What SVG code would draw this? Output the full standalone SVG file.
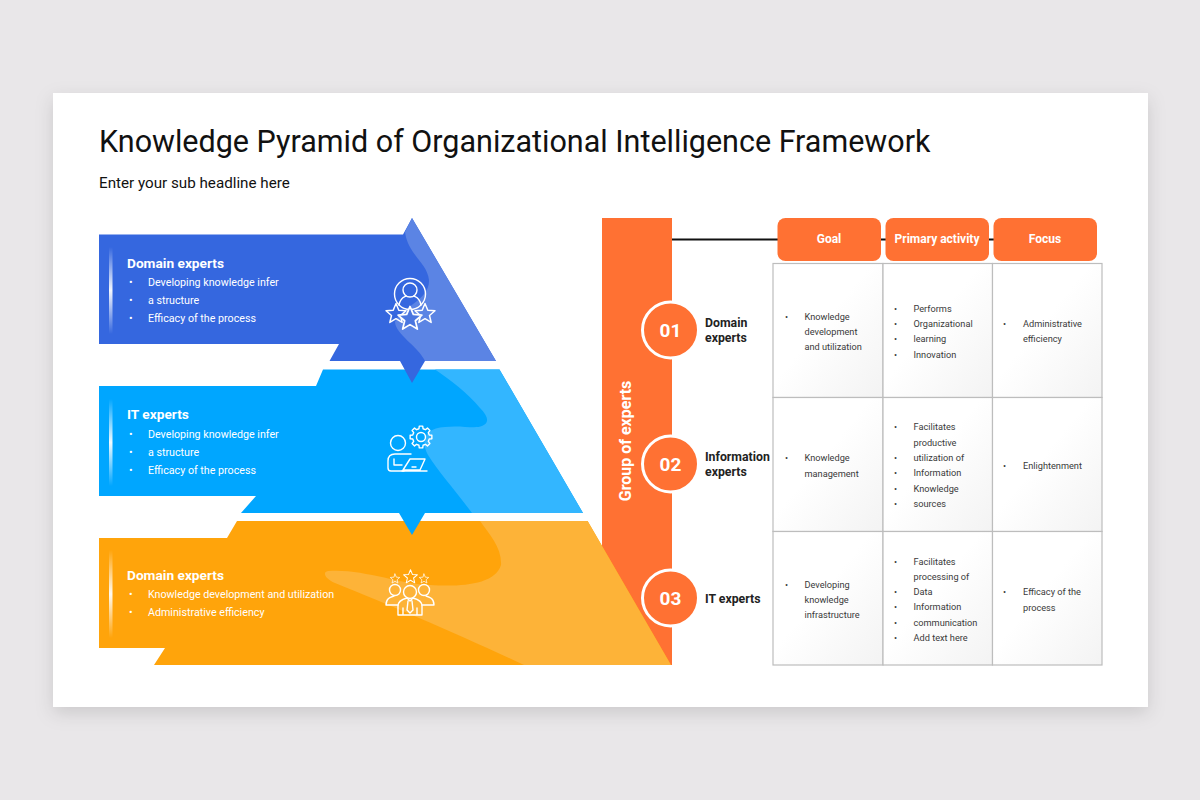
<svg xmlns="http://www.w3.org/2000/svg" width="1200" height="800" viewBox="0 0 1200 800">
<style>
text{font-family:Roboto,"Liberation Sans",sans-serif}
.h{font-size:13.7px;font-weight:700;fill:#fff}
.b{font-size:10.7px;fill:#fff}
.t{font-size:9.2px;fill:#3a3a3a}
.lab{font-size:12.3px;font-weight:700;fill:#222}
.num{font-size:19px;font-weight:700;fill:#fff;text-anchor:middle}
.hd{font-size:12px;font-weight:700;fill:#fff;text-anchor:middle}
.ic{fill:none;stroke:#fff;stroke-width:1.4;stroke-linejoin:round;stroke-linecap:round}
.cell{fill:url(#cg);stroke:#bdbdbd;stroke-width:1.2}
.bar{fill:url(#bg)}
.btn{fill:#ff7133}
</style>
<defs>
<filter id="sh" x="-5%" y="-5%" width="110%" height="115%"><feDropShadow dx="0" dy="6" stdDeviation="9" flood-color="#000" flood-opacity="0.13"/></filter>
<linearGradient id="cg" x1="0" y1="0" x2="1" y2="1"><stop offset="0.45" stop-color="#fff"/><stop offset="1" stop-color="#f3f3f3"/></linearGradient>
<linearGradient id="bg" x1="0" y1="0" x2="0" y2="1"><stop offset="0" stop-color="#fff" stop-opacity="0"/><stop offset="0.5" stop-color="#fff" stop-opacity="0.95"/><stop offset="1" stop-color="#fff" stop-opacity="0"/></linearGradient>
<path id="star" d="M0,-10L2.65,-3.64 9.51,-3.09 4.28,1.39 5.88,8.09 0,4.5 -5.88,8.09 -4.28,1.39 -9.51,-3.09 -2.65,-3.64Z"/>
</defs>
<rect width="1200" height="800" fill="#e9e7e9"/>
<rect x="53" y="93" width="1095" height="614" fill="#fff" filter="url(#sh)"/>
<text x="99" y="152" font-size="30.500" fill="#111">Knowledge Pyramid of Organizational Intelligence Framework</text>
<text x="99" y="188" font-size="15.200" fill="#111">Enter your sub headline here</text>

<g id="group-bar">
<rect x="602" y="218" width="70" height="447" fill="#ff7133"/>
<text transform="translate(631,441) rotate(-90)" font-size="16" font-weight="700" fill="#fff" text-anchor="middle">Group of experts</text>
</g>

<g id="tier-bottom">
<path d="M237,521H587.600L671,665H154L165,648H99V538H227Z" fill="#ffa40b"/>
<path d="M480,521H587.600L671,665H524C460,635 390,605 335,583C325,579 322,572 328,571C360,568 400,584 430,585C460,587 495,585 501,565C502,548 490,535 480,521Z" fill="#fdb338"/>
<rect class="bar" x="109" y="550" width="3.500" height="88"/>
<text class="h" x="127" y="580">Domain experts</text>
<text class="b" x="129" y="598">•</text><text class="b" x="148" y="598">Knowledge development and utilization</text>
<text class="b" x="129" y="616">•</text><text class="b" x="148" y="616">Administrative efficiency</text>
<g class="ic">
<use href="#star" transform="translate(395,579) scale(.5)"/>
<use href="#star" transform="translate(410.500,577) scale(.72)"/>
<use href="#star" transform="translate(424,579) scale(.5)"/>
<circle cx="395" cy="590" r="5.500"/><circle cx="424" cy="590" r="5.500"/><circle cx="410" cy="592" r="6.500"/>
<path d="M386,605C386,598 391,597 394,596M434,605C434,598 429,597 426,596M386,605H398M434,605H422"/>
<path d="M398,615V606C398,601 403,599 407,598L410,601L413,598C417,599 422,601 422,606V615ZM408,601L407,610L410,613L413,610L412,601M403,615V608M417,615V608"/>
</g>
</g>

<g id="tier-middle">
<path d="M323,369.500H499.500L583,513H425L412,535L399,513H241L256,496H99V386H316Z" fill="#00a6ff"/>
<path d="M435,369.500H499.500L583,513H472C455,490 437,470 428,455C420,440 425,428 445,427C460,425 475,429 482,426C490,423 488,416 480,408C468,393 450,380 435,369.500Z" fill="#33b6ff"/>
<rect class="bar" x="109" y="399" width="3.500" height="87"/>
<text class="h" x="127" y="419">IT experts</text>
<text class="b" x="129" y="438">•</text><text class="b" x="148" y="438">Developing knowledge infer</text>
<text class="b" x="129" y="456">•</text><text class="b" x="148" y="456">a structure</text>
<text class="b" x="129" y="474">•</text><text class="b" x="148" y="474">Efficacy of the process</text>
<g class="ic">
<circle cx="398" cy="443" r="7.500"/>
<path d="M411,454H395C390,454 388,457 388,461V468C388,470 389,471 391,471H404"/>
<path d="M394,459V465H402"/>
<path d="M410,459H425L420,470H403ZM402,471H427M412,467H416"/>
<g transform="translate(421,437)"><path d="M8.25,-2.06L10.86,-1.72 10.86,1.72 8.25,2.06 7.29,4.38 8.9,6.47 6.47,8.9 4.38,7.29 2.06,8.25 1.72,10.86 -1.72,10.86 -2.06,8.25 -4.38,7.29 -6.47,8.9 -8.9,6.47 -7.29,4.38 -8.25,2.06 -10.86,1.72 -10.86,-1.72 -8.25,-2.06 -7.29,-4.38 -8.9,-6.47 -6.47,-8.9 -4.38,-7.29 -2.06,-8.25 -1.72,-10.86 1.72,-10.86 2.06,-8.25 4.38,-7.29 6.47,-8.9 8.9,-6.47 7.29,-4.38Z"/><circle r="4.500"/></g>
</g>
</g>

<g id="tier-top">
<path d="M99,234.500H403L412,218L496,361H425L412,383L400,361H329.500L339,344H99Z" fill="#3567df"/>
<path d="M412,218L496,361H425C417,345 396,335 395,322C400,308 430,300 429,280C427,262 408,255 405,232Z" fill="#5b84e4"/>
<rect class="bar" x="109" y="247" width="3.500" height="87"/>
<text class="h" x="127" y="268">Domain experts</text>
<text class="b" x="129" y="286">•</text><text class="b" x="148" y="286">Developing knowledge infer</text>
<text class="b" x="129" y="304">•</text><text class="b" x="148" y="304">a structure</text>
<text class="b" x="129" y="322">•</text><text class="b" x="148" y="322">Efficacy of the process</text>
<g class="ic">
<circle cx="410" cy="294" r="15.500"/><circle cx="410" cy="290" r="7"/>
<path d="M399,305C400,298 404,297 406,296M421,305C420,298 416,297 414,296"/>
<use href="#star" transform="translate(396,314) scale(1.05)"/>
<use href="#star" transform="translate(425,314) scale(1.05)"/>
<use href="#star" transform="translate(410,319) scale(1.25)" fill="#4a76e0"/>
</g>
</g>

<g id="connectors">
<path d="M672,239.500H1000" stroke="#111" stroke-width="1.800" fill="none"/>
</g>

<g id="head-goal"><rect class="btn" x="777.500" y="218" width="103.500" height="43" rx="8"/><text class="hd" x="829" y="243">Goal</text></g>
<g id="head-activity"><rect class="btn" x="885.500" y="218" width="103.500" height="43" rx="8"/><text class="hd" x="937" y="243">Primary activity</text></g>
<g id="head-focus"><rect class="btn" x="993.500" y="218" width="103.500" height="43" rx="8"/><text class="hd" x="1045" y="243">Focus</text></g>

<g id="row-1">
<circle cx="670.500" cy="330" r="28" fill="#ff7133" stroke="#fff" stroke-width="3"/>
<text class="num" x="670.500" y="337">01</text>
<text class="lab" x="705" y="327">Domain</text><text class="lab" x="705" y="342">experts</text>
<rect class="cell" x="773" y="263.500" width="110" height="134"/>
<rect class="cell" x="883" y="263.500" width="109.500" height="134"/>
<rect class="cell" x="992.500" y="263.500" width="109.500" height="134"/>
<text class="t" x="785" y="320">•</text><text class="t" x="804.500" y="320">Knowledge</text><text class="t" x="804.500" y="335">development</text><text class="t" x="804.500" y="350">and utilization</text>
<text class="t" x="894" y="312">•</text><text class="t" x="913.500" y="312">Performs</text>
<text class="t" x="894" y="327">•</text><text class="t" x="913.500" y="327">Organizational</text>
<text class="t" x="894" y="342">•</text><text class="t" x="913.500" y="342">learning</text>
<text class="t" x="894" y="358">•</text><text class="t" x="913.500" y="358">Innovation</text>
<text class="t" x="1003" y="327">•</text><text class="t" x="1023" y="327">Administrative</text><text class="t" x="1023" y="342">efficiency</text>
</g>

<g id="row-2">
<circle cx="670.500" cy="464" r="28" fill="#ff7133" stroke="#fff" stroke-width="3"/>
<text class="num" x="670.500" y="471">02</text>
<text class="lab" x="705" y="461">Information</text><text class="lab" x="705" y="476">experts</text>
<rect class="cell" x="773" y="397.500" width="110" height="134"/>
<rect class="cell" x="883" y="397.500" width="109.500" height="134"/>
<rect class="cell" x="992.500" y="397.500" width="109.500" height="134"/>
<text class="t" x="785" y="461">•</text><text class="t" x="804.500" y="461">Knowledge</text><text class="t" x="804.500" y="477">management</text>
<text class="t" x="894" y="430">•</text><text class="t" x="913.500" y="430">Facilitates</text><text class="t" x="913.500" y="446">productive</text>
<text class="t" x="894" y="461">•</text><text class="t" x="913.500" y="461">utilization of</text>
<text class="t" x="894" y="476">•</text><text class="t" x="913.500" y="476">Information</text>
<text class="t" x="894" y="492">•</text><text class="t" x="913.500" y="492">Knowledge</text>
<text class="t" x="894" y="507">•</text><text class="t" x="913.500" y="507">sources</text>
<text class="t" x="1003" y="469">•</text><text class="t" x="1023" y="469">Enlightenment</text>
</g>

<g id="row-3">
<circle cx="670.500" cy="598" r="28" fill="#ff7133" stroke="#fff" stroke-width="3"/>
<text class="num" x="670.500" y="605">03</text>
<text class="lab" x="705" y="603">IT experts</text>
<rect class="cell" x="773" y="531.500" width="110" height="133.500"/>
<rect class="cell" x="883" y="531.500" width="109.500" height="133.500"/>
<rect class="cell" x="992.500" y="531.500" width="109.500" height="133.500"/>
<text class="t" x="785" y="588">•</text><text class="t" x="804.500" y="588">Developing</text><text class="t" x="804.500" y="603">knowledge</text><text class="t" x="804.500" y="618">infrastructure</text>
<text class="t" x="894" y="565">•</text><text class="t" x="913.500" y="565">Facilitates</text><text class="t" x="913.500" y="580">processing of</text>
<text class="t" x="894" y="595">•</text><text class="t" x="913.500" y="595">Data</text>
<text class="t" x="894" y="610">•</text><text class="t" x="913.500" y="610">Information</text>
<text class="t" x="894" y="626">•</text><text class="t" x="913.500" y="626">communication</text>
<text class="t" x="894" y="641">•</text><text class="t" x="913.500" y="641">Add text here</text>
<text class="t" x="1003" y="595">•</text><text class="t" x="1023" y="595">Efficacy of the</text><text class="t" x="1023" y="611">process</text>
</g>
</svg>
